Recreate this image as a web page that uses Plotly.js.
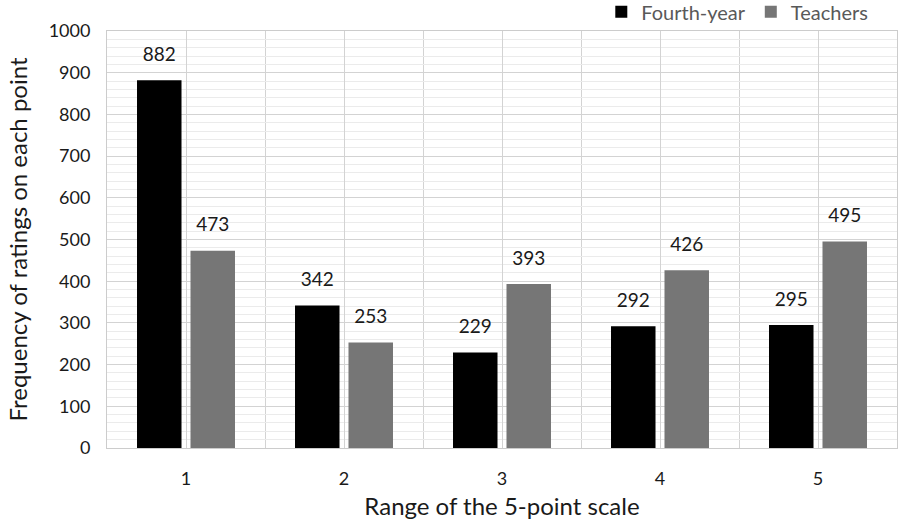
<!DOCTYPE html>
<html>
<head>
<meta charset="utf-8">
<script src="https://cdn.plot.ly/plotly-3.0.1.min.js"></script>
<style>
  html, body { margin: 0; padding: 0; background: #fff; }
  #chart { width: 900px; height: 525px; }
</style>
</head>
<body>
<div id="chart"></div>
<script>
// scale points on the x axis
const scalePoints = [1, 2, 3, 4, 5];
const fourthYear = [882, 342, 229, 292, 295];
const teachers = [473, 253, 393, 426, 495];
const seriesNames = ["Fourth-year", "Teachers"];

const font = "Lato, 'Open Sans', sans-serif";

const makeBar = (name, values, color) => ({
  type: "bar",
  name: name,
  x: scalePoints,
  y: values,
  marker: { color: color, line: { width: 0 } },
  text: values.map((v) => String(v)),
  // number in a bigger span, then a blank line in the small base font
  // so the label sits a bit above the bar like in Excel
  texttemplate: "<span style='font-size:19px'>%{text}</span><br> ",
  textposition: "outside",
  textfont: { family: font, size: 11, color: "#1a1a1a" },
  cliponaxis: false,
  hoverinfo: "x+y",
});

const data = [
  makeBar(seriesNames[0], fourthYear, "#000000"),
  makeBar(seriesNames[1], teachers, "#767676"),
];

const layout = {
  width: 900,
  height: 525,
  margin: { l: 107, r: 3, t: 31, b: 77, pad: 0, autoexpand: false },
  paper_bgcolor: "#ffffff",
  plot_bgcolor: "#ffffff",
  font: { family: font, size: 18, color: "#1a1a1a" },
  barmode: "group",
  bargap: 0.323,
  bargroupgap: 0.168,
  showlegend: true,
  legend: {
    orientation: "h",
    x: 0.97,
    xanchor: "right",
    y: 1.046,
    yanchor: "middle",
    font: { family: font, size: 20, color: "#595959" },
    bgcolor: "rgba(0,0,0,0)",
    traceorder: "normal",
  },
  xaxis: {
    type: "linear",
    range: [0.5, 5.5],
    tickvals: scalePoints,
    ticktext: scalePoints.map(String),
    showgrid: true,
    gridcolor: "#d3d3d3",
    gridwidth: 1,
    minor: { tick0: 0.5, dtick: 1, showgrid: true, gridcolor: "#d3d3d3", gridwidth: 1 },
    zeroline: false,
    showline: true,
    linecolor: "#cccccc",
    linewidth: 1,
    mirror: true,
    ticks: "",
    ticklabelstandoff: 14,
    tickfont: { family: font, size: 18, color: "#1a1a1a" },
    title: { text: "Range of the 5-point scale", font: { family: font, size: 24, color: "#1a1a1a" }, standoff: 10 },
    fixedrange: true,
  },
  yaxis: {
    range: [0, 1000],
    dtick: 100,
    showgrid: true,
    gridcolor: "#d3d3d3",
    gridwidth: 1,
    minor: { dtick: 20, showgrid: true, gridcolor: "#ebebeb", gridwidth: 1 },
    zeroline: false,
    showline: true,
    linecolor: "#cccccc",
    linewidth: 1,
    mirror: true,
    ticks: "",
    ticklabelstandoff: 12,
    tickfont: { family: font, size: 18, color: "#1a1a1a" },
    title: { text: "Frequency of ratings on each point", font: { family: font, size: 24, color: "#1a1a1a" }, standoff: 14 },
    fixedrange: true,
  },
};

Plotly.newPlot("chart", data, layout, { displayModeBar: false, staticPlot: true });
</script>
</body>
</html>
